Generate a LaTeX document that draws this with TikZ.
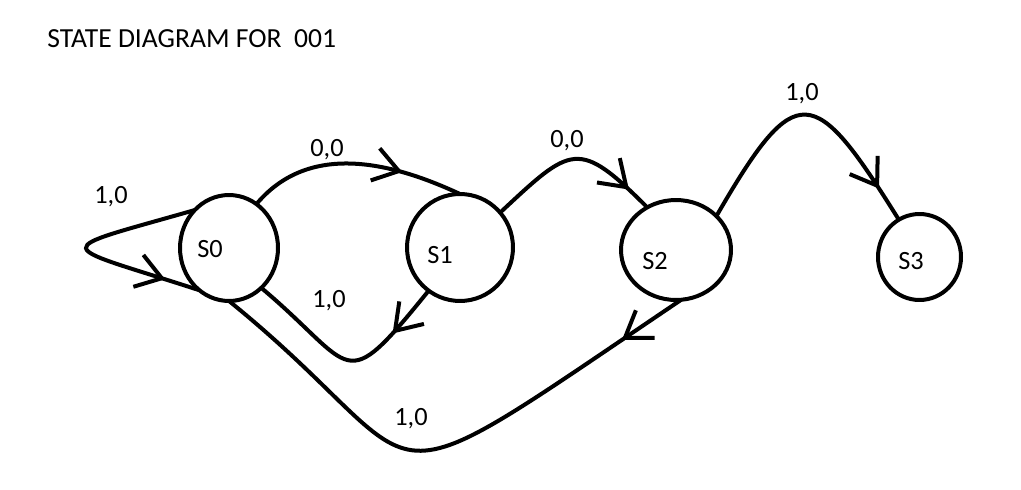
\documentclass[tikz,border=0pt]{standalone}
\usepackage{fontspec}
\setmainfont{Carlito}
\usepackage{tikz}
\usetikzlibrary{arrows.meta,shapes.geometric,decorations.markings,positioning}

\begin{document}
\begin{tikzpicture}[
    x=0.02cm, y=-0.02cm,
    state/.style={ellipse, draw, line width=0.08cm, inner sep=0pt, outer sep=0pt},
    statetext/.style={anchor=base, inner sep=0pt, font=\fontsize{15}{18}\selectfont},
    edgelabel/.style={anchor=base, inner sep=0pt, font=\fontsize{15}{18}\selectfont},
    trans/.style={line width=0.08cm},
    midarrow/.style={decoration={markings, mark=at position #1 with {\arrow{Straight Barb[length=14pt,width=19pt]}}}, postaction={decorate}}
]
    \useasboundingbox (0,0) rectangle (1021,490);

    % === Title ===
    \node[anchor=base west, inner sep=0pt, font=\fontsize{15.7}{19}\selectfont] (title) at (47,47) {STATE DIAGRAM FOR\ \ 001};

    % === States ===
    \node[state, minimum width=1.96cm, minimum height=2.12cm] (s0) at (229,248) {};
    \node[state, minimum width=2.12cm, minimum height=2.14cm] (s1) at (460,247.5) {};
    \node[state, minimum width=2.2cm, minimum height=2.0cm] (s2) at (676,250) {};
    \node[state, minimum width=1.66cm, minimum height=1.72cm] (s3) at (919.5,257) {};

    % state names (sit left of centre)
    \node[statetext] (n0) at (210,257) {S0};
    \node[statetext] (n1) at (440,263) {S1};
    \node[statetext] (n2) at (655,269) {S2};
    \node[statetext] (n3) at (911,269) {S3};

    % === Transitions ===
    \draw[trans, midarrow=0.72] (s0.58) to[out=50,in=155] (s1.90);
    \draw[trans, midarrow=0.86] (s1.41) to[out=43,in=135,looseness=1.7] (s2.124);
    \draw[trans, midarrow=0.87] (s2.40) to[out=60,in=122,looseness=2.25] (s3.119);

    % self loop on S0
    \draw[trans, midarrow=0.85] (s0.132) .. controls +(196:3.1cm) and +(162:3.1cm) .. (s0.235);

    % back to S0
    \draw[trans, midarrow=0.25] (s1.234) .. controls +(231:2.8cm) and +(320:2.5cm) .. (s0.309);
    \draw[trans, midarrow=0.13] (s2.276) .. controls +(214:8cm) and +(321:5.6cm) .. (s0.270);

    % === Labels ===
    \node[edgelabel] (l01) at (327,156) {0,0};
    \node[edgelabel] (l12) at (567,147) {0,0};
    \node[edgelabel] (l23) at (802,100) {1,0};
    \node[edgelabel] (l00) at (111,203) {1,0};
    \node[edgelabel] (l10) at (329,307) {1,0};
    \node[edgelabel] (l20) at (411,425) {1,0};
\end{tikzpicture}
\end{document}
